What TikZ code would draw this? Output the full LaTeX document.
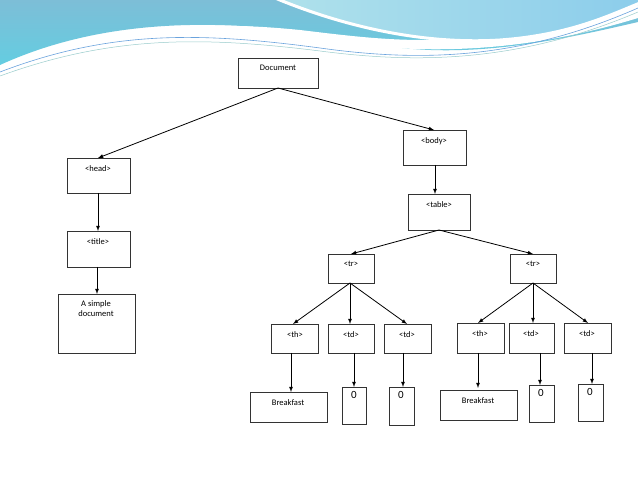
\documentclass[tikz,border=0pt]{standalone}
\usepackage{fontspec}
\setmainfont{Carlito}
\definecolor{bA}{RGB}{125,190,215}
\definecolor{bB}{RGB}{100,205,225}
\definecolor{bC}{RGB}{175,225,235}
\definecolor{bD}{RGB}{140,205,235}
\begin{document}
\begin{tikzpicture}[x=1pt,y=-1pt,
 bx/.style={draw=black!80,line width=0.7pt,fill=white},
 ar/.style={-latex,line width=0.8pt},
 lb/.style={font=\fontsize{8.5}{10}\selectfont,anchor=north,align=center}]
\useasboundingbox (0,0) rectangle (638,478);
\fill[white] (0,0) rectangle (638,478);
% banner
\shade[top color=bA, bottom color=bB] (0,0) -- (638,0) -- (638,22) .. controls (560,40) and (470,60) .. (380,45) .. controls (260,20) and (120,10) .. (0,65) -- cycle;
\fill[white] (0,75) .. controls (110,25) and (200,20) .. (300,30) .. controls (400,42) and (470,52) .. (638,5) -- (638,18) .. controls (540,48) and (450,55) .. (360,45) .. controls (250,30) and (120,25) .. (0,78) -- cycle;
\shade[left color=bC,right color=bD] (280,0) .. controls (340,25) and (420,45) .. (500,40) .. controls (570,35) and (610,15) .. (638,5) -- (638,0) -- cycle;
\draw[white,line width=3pt] (275,-2) .. controls (340,25) and (420,45) .. (500,40) .. controls (570,35) and (610,15) .. (640,3);
\draw[cyan!60!blue!60,line width=0.6pt] (0,72) .. controls (110,30) and (200,32) .. (320,48) .. controls (420,62) and (520,60) .. (638,8);
\draw[teal!40,line width=0.5pt] (0,76) .. controls (110,36) and (200,36) .. (320,51) .. controls (420,64) and (520,62) .. (638,12);
% nodes
\draw[bx] (238,58) rectangle (318,88); \node[lb] (doc) at (278,62) {Document};
\draw[bx] (67,158) rectangle (130,193); \node[lb] (head) at (98,162) {<head>};
\draw[bx] (67,231) rectangle (130,267); \node[lb] (title) at (98,235) {<title>};
\draw[bx] (58,294) rectangle (135,353); \node[lb] (simple) at (96,297) {A simple\\document};
\draw[bx] (403,130) rectangle (466,165); \node[lb] (body) at (434,134) {<body>};
\draw[bx] (408,194) rectangle (470,230); \node[lb] (table) at (439,198) {<table>};
\draw[bx] (328,254) rectangle (374,283); \node[lb] (tra) at (351,258) {<tr>};
\draw[bx] (510,254) rectangle (556,283); \node[lb] (trb) at (533,258) {<tr>};
\draw[bx] (271,324) rectangle (318,353); \node[lb] (tha) at (295,328) {<th>};
\draw[bx] (328,324) rectangle (374,353); \node[lb] (tda) at (351,328) {<td>};
\draw[bx] (384,324) rectangle (431,353); \node[lb] (tdb) at (407,328) {<td>};
\draw[bx] (457,323) rectangle (504,353); \node[lb] (thb) at (480,327) {<th>};
\draw[bx] (509,323) rectangle (554,353); \node[lb] (tdc) at (531,327) {<td>};
\draw[bx] (564,323) rectangle (611,353); \node[lb] (tdd) at (587,327) {<td>};
\draw[bx] (250,392) rectangle (327,422); \node[lb] (bfa) at (288,396) {Breakfast};
\draw[bx] (342,387) rectangle (366,424); \node[lb,font=\fontsize{11}{13}\selectfont] (za) at (354,388) {0};
\draw[bx] (389,387) rectangle (414,425); \node[lb,font=\fontsize{11}{13}\selectfont] (zb) at (401,388) {0};
\draw[bx] (440,390) rectangle (517,420); \node[lb] (bfb) at (478,394) {Breakfast};
\draw[bx] (529,385) rectangle (554,422); \node[lb,font=\fontsize{11}{13}\selectfont] (zc) at (541,386) {0};
\draw[bx] (578,384) rectangle (603,421); \node[lb,font=\fontsize{11}{13}\selectfont] (zd) at (590,385) {0};
% connector end points
\coordinate (d0) at (278,88);
\coordinate (h1) at (98,158); \coordinate (h0) at (98,193);
\coordinate (t1) at (98,231); \coordinate (t0) at (97,267);
\coordinate (s1) at (97,294);
\coordinate (b1) at (434,130); \coordinate (b0) at (435,165);
\coordinate (ta1) at (435,194); \coordinate (ta0) at (439,230);
\coordinate (ra1) at (351,254); \coordinate (ra0) at (350,283);
\coordinate (rb1) at (533,254); \coordinate (rb0) at (533,283);
\coordinate (tha1) at (293,324); \coordinate (tda1) at (350,324); \coordinate (tdb1) at (407,324);
\coordinate (thb1) at (478,323); \coordinate (tdc1) at (533,323); \coordinate (tdd1) at (588,323);
\coordinate (tha0) at (291,353); \coordinate (tda0) at (354,353); \coordinate (tdb0) at (403,353);
\coordinate (thb0) at (478,353); \coordinate (tdc0) at (540,353); \coordinate (tdd0) at (592,353);
\coordinate (bfa1) at (291,392); \coordinate (za1) at (354,387); \coordinate (zb1) at (403,387);
\coordinate (bfb1) at (478,388); \coordinate (zc1) at (540,385); \coordinate (zd1) at (592,384);
\draw[ar] (d0) -- (h1); \draw[ar] (d0) -- (b1);
\draw[ar] (h0) -- (t1); \draw[ar] (t0) -- (s1);
\draw[ar] (b0) -- (ta1);
\draw[ar] (ta0) -- (ra1); \draw[ar] (ta0) -- (rb1);
\draw[ar] (ra0) -- (tha1); \draw[ar] (ra0) -- (tda1); \draw[ar] (ra0) -- (tdb1);
\draw[ar] (rb0) -- (thb1); \draw[ar] (rb0) -- (tdc1); \draw[ar] (rb0) -- (tdd1);
\draw[ar] (tha0) -- (bfa1); \draw[ar] (tda0) -- (za1); \draw[ar] (tdb0) -- (zb1);
\draw[ar] (thb0) -- (bfb1); \draw[ar] (tdc0) -- (zc1); \draw[ar] (tdd0) -- (zd1);
\end{tikzpicture}
\end{document}
